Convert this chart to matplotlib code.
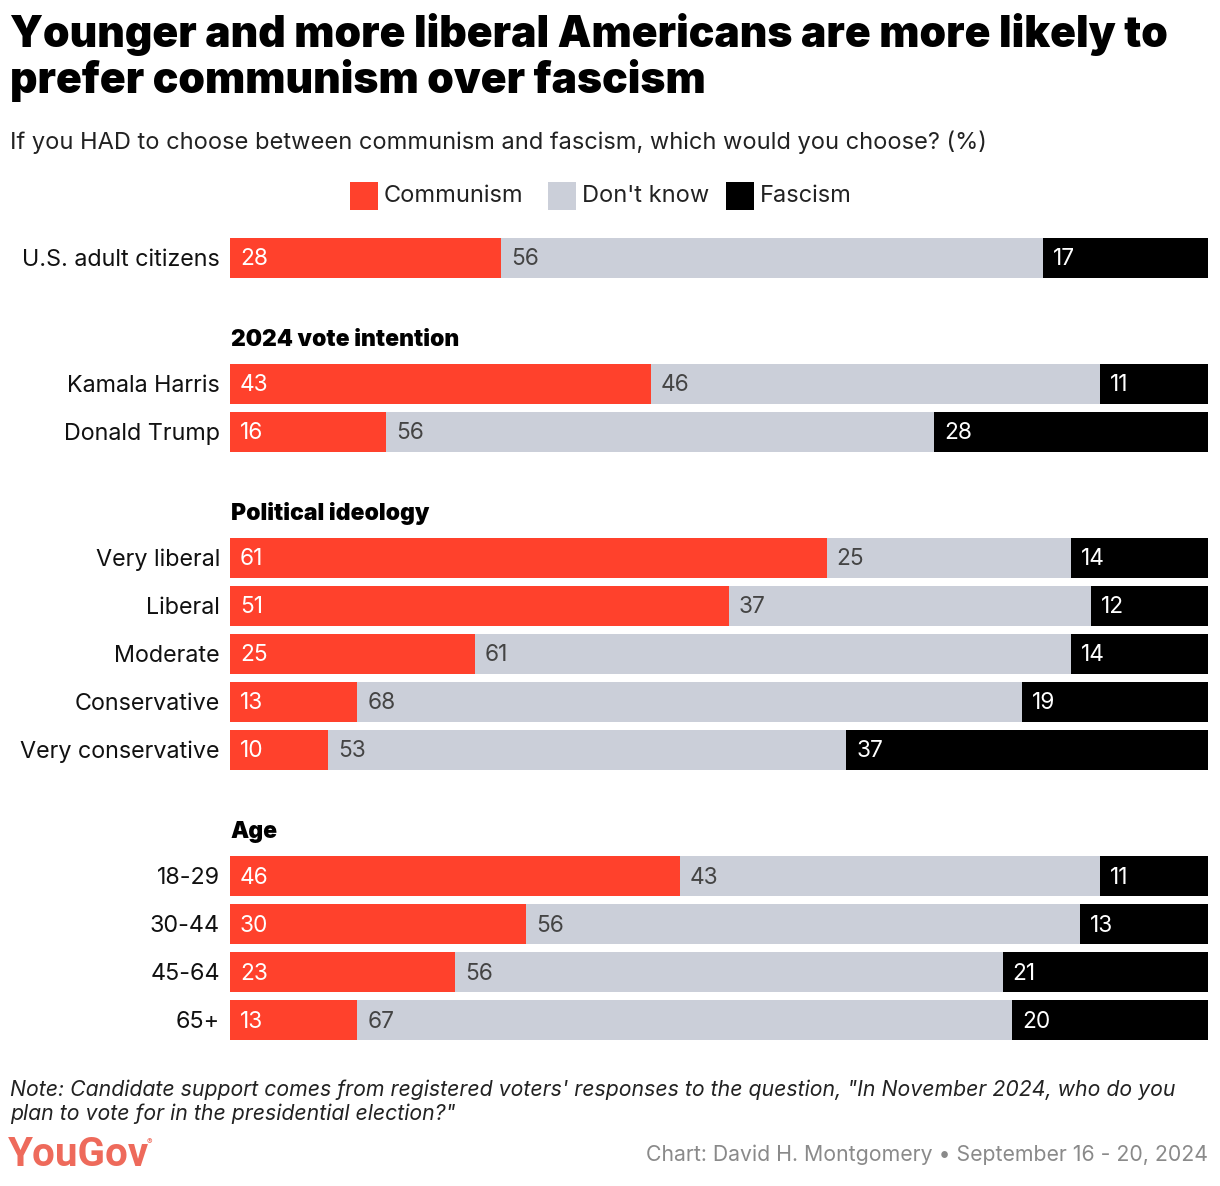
import matplotlib
matplotlib.use('Agg')
import matplotlib.pyplot as plt
from matplotlib.patches import Rectangle

# data
groups = ['', '2024 vote intention', 'Political ideology', 'Age']
labels = [['U.S. adult citizens'],
          ['Kamala Harris', 'Donald Trump'],
          ['Very liberal', 'Liberal', 'Moderate', 'Conservative', 'Very conservative'],
          ['18-29', '30-44', '45-64', '65+']]
communism = [[28], [43, 16], [61, 51, 25, 13, 10], [46, 30, 23, 13]]
dont_know = [[56], [46, 56], [25, 37, 61, 68, 53], [43, 56, 56, 67]]
fascism = [[17], [11, 28], [14, 12, 14, 19, 37], [11, 13, 21, 20]]

series = ['Communism', "Don't know", 'Fascism']
colors = ['#FF412C', '#CBCFD9', '#000000']
text_colors = ['white', '#444444', 'white']

W, H = 1220, 1186
plt.rcParams['font.family'] = ['Inter', 'DejaVu Sans']
heavy = ['Inter', 'DejaVu Sans']

fig = plt.figure(figsize=(W / 100, H / 100), dpi=100)

def fx(px):
    return px / W

def fy(py):
    return 1 - py / H

# plotting area in pixel units
x0, x1 = 230, 1208
ytop, ybot = 230, 1045
ax = fig.add_axes([fx(x0), fy(ybot), fx(x1 - x0), (ybot - ytop) / H])
ax.set_xlim(0, 1)
ax.set_ylim(ybot, ytop)
ax.axis('off')

row_step = 48
group_gap = 126
bar_h = 40
y = 258
for g, name in enumerate(groups):
    if g > 0:
        y += group_gap - row_step
        ax.text(0.001, y - 44, name, ha='left', va='center', fontsize=16.5,
                fontweight='black', family=heavy)
    for i, lab in enumerate(labels[g]):
        vals = [communism[g][i], dont_know[g][i], fascism[g][i]]
        tot = sum(vals)
        left = 0
        for k, v in enumerate(vals):
            w = v / tot
            ax.barh(y, w, left=left, height=bar_h, color=colors[k], linewidth=0)
            ax.text(left + 10 / (x1 - x0), y + 1.5, str(v), ha='left', va='center',
                    fontsize=16.3, color=text_colors[k])
            left += w
        fig.text(fx(220), fy(y + 1.5), lab, ha='right', va='center', fontsize=16.8,
                 color='#111111')
        y += row_step

# title and subtitle
fig.text(fx(10), fy(35), 'Younger and more liberal Americans are more likely to',
         ha='left', va='center', fontsize=30.7, fontweight='black', family=heavy)
fig.text(fx(10), fy(81), 'prefer communism over fascism',
         ha='left', va='center', fontsize=30.7, fontweight='black', family=heavy)
fig.text(fx(10), fy(142), 'If you HAD to choose between communism and fascism, which would you choose? (%)',
         ha='left', va='center', fontsize=17, color='#222222')

# legend
leg_x = [350, 548, 726]
for k, name in enumerate(series):
    fig.patches.append(Rectangle((fx(leg_x[k]), fy(210)), 28 / W, 28 / H,
                                 transform=fig.transFigure, color=colors[k], linewidth=0))
    fig.text(fx(leg_x[k] + 34), fy(196), name, ha='left', va='center',
             fontsize=17, color='#222222')

# note and footer
fig.text(fx(10), fy(1090), 'Note: Candidate support comes from registered voters\' responses to the question, "In November 2024, who do you',
         ha='left', va='center', fontsize=15.3, style='italic', color='#222222')
fig.text(fx(10), fy(1114), 'plan to vote for in the presidential election?"',
         ha='left', va='center', fontsize=15.3, style='italic', color='#222222')
fig.text(fx(8), fy(1155), 'YouGov', ha='left', va='center', fontsize=29,
         fontweight='bold', color='#EE6A5B', family=['Roboto', 'DejaVu Sans'])
fig.text(fx(147), fy(1142), '®', ha='left', va='center', fontsize=6, color='#EE6A5B')
fig.text(fx(1208), fy(1155), 'Chart: David H. Montgomery • September 16 - 20, 2024',
         ha='right', va='center', fontsize=15.3, color='#8a8a8a')

fig.savefig('out.png', dpi=100, facecolor='white')
